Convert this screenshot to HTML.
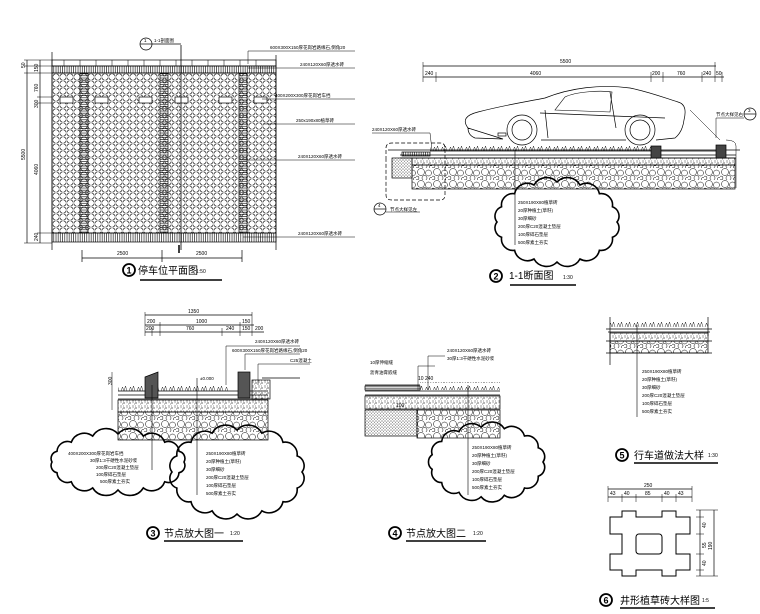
<!DOCTYPE html>
<html><head><meta charset="utf-8"><style>
html,body{margin:0;padding:0;background:#fff}
svg{display:block}
text{font-family:"Liberation Sans","Noto Sans CJK SC",sans-serif;fill:#000}
.s{font-size:4.5px}
.d{font-size:5px}
.t{font-size:10px}
.sc{font-size:5px}
.n{font-size:9px;font-weight:bold}
</style></head><body>
<svg id="sv" width="760" height="614" viewBox="0 0 760 614" xmlns="http://www.w3.org/2000/svg" stroke="#000" fill="none" stroke-width="0.7">
<defs>
<pattern id="cross" width="7" height="7" patternUnits="userSpaceOnUse">
<path d="M2.5 1h2v1.5h1.5v2h-1.5v1.5h-2v-1.5h-1.5v-2h1.5z" stroke-width="0.5"/>
</pattern>
<pattern id="vh" width="2.2" height="10" patternUnits="userSpaceOnUse"><line x1="1" y1="0" x2="1" y2="10" stroke-width="0.6"/></pattern>
<pattern id="hh" width="10" height="2.2" patternUnits="userSpaceOnUse"><line x1="0" y1="1" x2="10" y2="1" stroke-width="0.6"/></pattern>
<pattern id="stone" width="16" height="12" patternUnits="userSpaceOnUse">
<circle cx="5" cy="4" r="3.5" stroke-width="0.5"/><circle cx="12.5" cy="5" r="3" stroke-width="0.5"/><circle cx="8.5" cy="10" r="2.5" stroke-width="0.5"/><circle cx="1" cy="10" r="2" stroke-width="0.5"/><circle cx="15" cy="11" r="1.5" stroke-width="0.5"/>
</pattern>
<pattern id="grav" width="6" height="5" patternUnits="userSpaceOnUse">
<circle cx="1" cy="1" r="0.5" fill="#000" stroke="none"/><circle cx="4" cy="3" r="0.6" fill="#000" stroke="none"/><circle cx="2.5" cy="4" r="0.4" fill="#000" stroke="none"/><path d="M3 0.5l1 1M0.5 3l1 -0.6" stroke-width="0.4"/>
</pattern>
<pattern id="dense" width="3" height="3" patternUnits="userSpaceOnUse">
<circle cx="1" cy="1" r="0.6" fill="#555" stroke="none"/><circle cx="2.5" cy="2.3" r="0.5" fill="#555" stroke="none"/>
</pattern>
<pattern id="grass" width="8" height="8" patternUnits="userSpaceOnUse">
<path d="M1 7l1.5-4 1.5 4M4 7l1.5-5 1.5 5" stroke-width="0.4"/>
</pattern>
</defs>

<!-- ===== 1 plan ===== -->
<g>
<rect x="52" y="60" width="224" height="6"/>
<g stroke-width="0.5">
<line x1="64" y1="60" x2="64" y2="66"/><line x1="80" y1="60" x2="80" y2="66"/><line x1="96" y1="60" x2="96" y2="66"/><line x1="112" y1="60" x2="112" y2="66"/><line x1="128" y1="60" x2="128" y2="66"/><line x1="144" y1="60" x2="144" y2="66"/><line x1="160" y1="60" x2="160" y2="66"/><line x1="176" y1="60" x2="176" y2="66"/><line x1="192" y1="60" x2="192" y2="66"/><line x1="208" y1="60" x2="208" y2="66"/><line x1="224" y1="60" x2="224" y2="66"/><line x1="240" y1="60" x2="240" y2="66"/><line x1="256" y1="60" x2="256" y2="66"/>
</g>
<rect x="52" y="66" width="224" height="7" fill="url(#vh)"/>
<rect x="52" y="73" width="224" height="160" fill="url(#cross)"/>
<rect x="80" y="73" width="8" height="160" fill="url(#hh)"/>
<rect x="160" y="73" width="8" height="160" fill="url(#hh)"/>
<rect x="239" y="73" width="8" height="160" fill="url(#hh)"/>
<rect x="52" y="233" width="224" height="9" fill="url(#vh)"/>
<g fill="#fff">
<rect x="60" y="97" width="13" height="6"/><rect x="95" y="97" width="13" height="6"/><rect x="139" y="97" width="13" height="6"/><rect x="175" y="97" width="13" height="6"/><rect x="219" y="97" width="13" height="6"/><rect x="254" y="97" width="13" height="6"/>
</g>
<line x1="52" y1="52" x2="52" y2="250"/><line x1="276" y1="55" x2="276" y2="250"/>
<line x1="181" y1="45" x2="181" y2="250" stroke-width="0.8"/>
<line x1="179" y1="245" x2="179" y2="253" stroke-width="1.5"/>
<circle cx="146" cy="44" r="6"/><line x1="140" y1="44" x2="152" y2="44"/>
<text x="144" y="42" class="s" stroke="none">1</text>
<line x1="152" y1="44" x2="181" y2="44"/>
<text x="154" y="42" class="s" stroke="none">1-1剖面图</text>
<line x1="27" y1="60" x2="27" y2="243"/><line x1="40" y1="60" x2="40" y2="243"/>
<g stroke-width="0.5"><line x1="24" y1="60" x2="52" y2="60"/><line x1="24" y1="66" x2="52" y2="66"/><line x1="24" y1="73" x2="52" y2="73"/><line x1="37" y1="97" x2="52" y2="97"/><line x1="37" y1="103" x2="52" y2="103"/><line x1="37" y1="233" x2="52" y2="233"/><line x1="24" y1="243" x2="52" y2="243"/></g>
<text class="d" stroke="none" transform="translate(25,160) rotate(-90)">5500</text>
<text class="d" stroke="none" transform="translate(38,175) rotate(-90)">4060</text>
<text class="d" stroke="none" transform="translate(38,108) rotate(-90)">300</text>
<text class="d" stroke="none" transform="translate(38,92) rotate(-90)">760</text>
<text class="d" stroke="none" transform="translate(38,241) rotate(-90)">240</text>
<text class="d" stroke="none" transform="translate(25,68) rotate(-90)">50</text>
<text class="d" stroke="none" transform="translate(38,72) rotate(-90)">150</text>
<line x1="82" y1="258" x2="242" y2="258"/>
<line x1="82" y1="250" x2="82" y2="262"/><line x1="162" y1="250" x2="162" y2="262"/><line x1="242" y1="250" x2="242" y2="262"/>
<text x="117" y="255" class="d" stroke="none">2500</text><text x="196" y="255" class="d" stroke="none">2500</text>
<g stroke-width="0.5">
<polyline points="248,64 248,51 355,51"/><line x1="248" y1="68" x2="355" y2="68"/><line x1="262" y1="99" x2="355" y2="99"/><line x1="264" y1="124" x2="355" y2="124"/><line x1="243" y1="160" x2="355" y2="160"/><line x1="243" y1="237" x2="355" y2="237"/>
</g>
<text x="270" y="49" class="s" stroke="none">600X300X150厚花岗岩路缘石,倒角20</text>
<text x="300" y="66" class="s" stroke="none">240X120X60厚透水砖</text>
<text x="275" y="97" class="s" stroke="none">400X200X300厚花岗岩车挡</text>
<text x="296" y="122" class="s" stroke="none">250x190x80植草砖</text>
<text x="298" y="158" class="s" stroke="none">240X120X60厚透水砖</text>
<text x="298" y="235" class="s" stroke="none">240X120X60厚透水砖</text>
<circle cx="129" cy="270" r="6" stroke-width="1.8"/><text x="126.5" y="273.5" class="n" stroke="none">1</text>
<text x="138" y="274" class="t" stroke="none">停车位平面图</text><text x="196" y="273" class="sc" stroke="none">1:50</text>
<line x1="140" y1="280" x2="222" y2="280" stroke-width="1.5"/>
</g>

<!-- ===== 2 section ===== -->
<g>
<line x1="423" y1="66" x2="716" y2="66"/><line x1="423" y1="77" x2="724" y2="77"/>
<g stroke-width="0.5"><line x1="423" y1="62" x2="423" y2="82"/><line x1="436" y1="72" x2="436" y2="82"/><line x1="651" y1="72" x2="651" y2="82"/><line x1="663" y1="72" x2="663" y2="82"/><line x1="702" y1="72" x2="702" y2="82"/><line x1="715" y1="62" x2="715" y2="82"/><line x1="722" y1="72" x2="722" y2="82"/></g>
<text x="560" y="63" class="d" stroke="none">5500</text><text x="425" y="75" class="d" stroke="none">240</text><text x="530" y="75" class="d" stroke="none">4060</text><text x="652" y="75" class="d" stroke="none">200</text><text x="677" y="75" class="d" stroke="none">760</text><text x="703" y="75" class="d" stroke="none">240</text><text x="716" y="75" class="d" stroke="none">50</text>
<path d="M468 128 C462 120 466 115 478 112 C505 105 525 102 545 98 C570 88 600 84 630 88 C650 92 665 98 678 102 C686 104 686 112 684 120 C683 128 680 134 675 138 L656 140 M626 140 L541 140 M503 139 L475 138 C470 136 468 132 468 128 Z"/>
<circle cx="522" cy="130" r="15"/><circle cx="522" cy="130" r="10"/>
<circle cx="640" cy="130" r="15"/><circle cx="640" cy="130" r="10"/>
<path d="M565 97 C575 92 600 90 612 92 L610 112 L555 110 Z" stroke-width="0.6"/>
<path d="M545 110 L548 138 M610 92 L616 128 M540 113 L665 118"/>
<rect x="498" y="133" width="8" height="3"/>
<line x1="388" y1="150" x2="740" y2="150"/>
<rect x="402" y="152" width="28" height="4" fill="url(#vh)"/>
<rect x="430" y="146" width="230" height="5" fill="url(#grass)" stroke="none"/>
<line x1="430" y1="151" x2="726" y2="151"/>
<line x1="400" y1="155" x2="736" y2="155"/>
<line x1="400" y1="158" x2="736" y2="158"/>
<rect x="412" y="158" width="323" height="7" fill="url(#grav)"/>
<rect x="412" y="165" width="323" height="24" fill="url(#stone)"/>
<rect x="392" y="158" width="20" height="20" fill="url(#dense)"/>
<rect x="651" y="146" width="10" height="12" fill="#444"/>
<rect x="716" y="145" width="10" height="13" fill="#444"/>
<path d="M386 160 L386 148 Q386 143 392 143 L440 143 Q445 143 445 148 L445 195 Q445 200 440 200 L392 200 Q386 200 386 195 Z" stroke-dasharray="4 2"/>
<path d="M726 140 Q736 140 736 146 L736 188" stroke-width="0.5"/>
<circle cx="380" cy="209" r="6"/><line x1="374" y1="209" x2="386" y2="209"/><text x="378" y="207" class="s" stroke="none">4</text>
<text x="390" y="211" class="s" stroke="none">节点大样见左</text><line x1="386" y1="212" x2="420" y2="212" stroke-width="0.5"/>
<circle cx="750" cy="114" r="6"/><line x1="744" y1="114" x2="756" y2="114"/><text x="748" y="112" class="s" stroke="none">3</text>
<polyline points="744,118 716,118 716,138" stroke-width="0.5"/><text x="716" y="116" class="s" stroke="none">节点大样见右</text>
<line x1="690" y1="110" x2="720" y2="140" stroke-width="0.5"/>
<polyline points="372,133 430,133 432,150" stroke-width="0.5"/><text x="372" y="131" class="s" stroke="none">240X120X60厚透水砖</text>
<line x1="515" y1="150" x2="515" y2="245" stroke-width="0.6"/>
<text x="518" y="204" class="s" stroke="none">250X190X80植草砖</text>
<text x="518" y="212" class="s" stroke="none">20厚种植土(草籽)</text>
<text x="518" y="220" class="s" stroke="none">30厚细砂</text>
<text x="518" y="228" class="s" stroke="none">200厚C20混凝土垫层</text>
<text x="518" y="236" class="s" stroke="none">100厚碎石垫层</text>
<text x="518" y="244" class="s" stroke="none">500厚素土夯实</text>
<circle cx="496" cy="276" r="6" stroke-width="1.8"/><text x="493.5" y="279.5" class="n" stroke="none">2</text>
<text x="509" y="279" class="t" stroke="none">1-1断面图</text><text x="563" y="279" class="sc" stroke="none">1:30</text>
<line x1="510" y1="285" x2="576" y2="285" stroke-width="1.5"/>
</g>

<!-- ===== 3 detail ===== -->
<g>
<line x1="145" y1="315" x2="252" y2="315"/><line x1="145" y1="325" x2="254" y2="325"/><line x1="145" y1="332" x2="264" y2="332"/>
<g stroke-width="0.5"><line x1="145" y1="312" x2="145" y2="336"/><line x1="152" y1="328" x2="152" y2="336"/><line x1="160" y1="322" x2="160" y2="336"/><line x1="222" y1="328" x2="222" y2="336"/><line x1="240" y1="322" x2="240" y2="336"/><line x1="252" y1="312" x2="252" y2="336"/></g>
<text x="188" y="313" class="d" stroke="none">1350</text><text x="147" y="323" class="d" stroke="none">200</text><text x="196" y="323" class="d" stroke="none">1000</text><text x="242" y="323" class="d" stroke="none">150</text>
<text x="146" y="330" class="d" stroke="none">200</text><text x="186" y="330" class="d" stroke="none">760</text><text x="226" y="330" class="d" stroke="none">240</text><text x="242" y="330" class="d" stroke="none">150</text><text x="255" y="330" class="d" stroke="none">200</text>
<rect x="118" y="383" width="110" height="8" fill="url(#grass)" stroke="none"/>
<line x1="118" y1="391" x2="268" y2="391"/><line x1="118" y1="395" x2="268" y2="395"/><line x1="118" y1="399" x2="268" y2="399"/>
<rect x="118" y="400" width="150" height="12" fill="url(#grav)"/>
<rect x="118" y="412" width="150" height="28" fill="url(#stone)"/>
<path d="M145 377 L158 372 L158 398 L145 398 Z" fill="#555"/>
<rect x="238" y="372" width="12" height="26" fill="#555"/>
<rect x="252" y="380" width="18" height="19" fill="url(#grav)"/>
<line x1="262" y1="378" x2="300" y2="378"/>
<text x="200" y="380" class="s" stroke="none">±0.000</text>
<polyline points="226,385 226,346 300,346" stroke-width="0.5"/><text x="255" y="343" class="s" stroke="none">240X120X60厚透水砖</text>
<polyline points="245,370 245,354 300,354" stroke-width="0.5"/><text x="232" y="352" class="s" stroke="none">600X300X150厚花岗岩路缘石,倒角20</text>
<polyline points="258,385 258,364 310,364" stroke-width="0.5"/><text x="290" y="362" class="s" stroke="none">C25混凝土</text>
<text class="d" stroke="none" transform="translate(112,385) rotate(-90)">300</text>
<line x1="112" y1="372" x2="112" y2="410" stroke-width="0.5"/>
<line x1="152" y1="385" x2="152" y2="470" stroke-width="0.6"/>
<line x1="197" y1="378" x2="197" y2="495" stroke-width="0.6"/>
<text x="68" y="455" class="s" stroke="none">400X200X300厚花岗岩车挡</text>
<text x="90" y="462" class="s" stroke="none">30厚1:3干硬性水泥砂浆</text>
<text x="96" y="469" class="s" stroke="none">200厚C20混凝土垫层</text>
<text x="96" y="476" class="s" stroke="none">100厚碎石垫层</text>
<text x="100" y="483" class="s" stroke="none">500厚素土夯实</text>
<text x="206" y="455" class="s" stroke="none">250X190X80植草砖</text>
<text x="206" y="463" class="s" stroke="none">20厚种植土(草籽)</text>
<text x="206" y="471" class="s" stroke="none">30厚细砂</text>
<text x="206" y="479" class="s" stroke="none">200厚C20混凝土垫层</text>
<text x="206" y="487" class="s" stroke="none">100厚碎石垫层</text>
<text x="206" y="495" class="s" stroke="none">500厚素土夯实</text>
<circle cx="153" cy="533" r="6" stroke-width="1.8"/><text x="150.5" y="536.5" class="n" stroke="none">3</text>
<text x="164" y="537" class="t" stroke="none">节点放大图一</text><text x="230" y="535" class="sc" stroke="none">1:20</text>
<line x1="164" y1="541" x2="243" y2="541" stroke-width="1.5"/>
</g>

<!-- ===== 4 detail ===== -->
<g>
<line x1="365" y1="385" x2="420" y2="385"/>
<rect x="365" y="386" width="55" height="4" fill="url(#hh)"/>
<rect x="420" y="382" width="80" height="8" fill="url(#grass)" stroke="none"/>
<line x1="365" y1="391" x2="500" y2="391"/><line x1="365" y1="395" x2="500" y2="395"/>
<rect x="365" y="396" width="135" height="13" fill="url(#grav)"/>
<rect x="365" y="410" width="52" height="26" fill="url(#dense)"/>
<rect x="417" y="410" width="83" height="28" fill="url(#stone)"/>
<polyline points="418,390 418,366 435,366" stroke-width="0.5"/><polyline points="428,390 428,356 445,356" stroke-width="0.5"/>
<text x="370" y="364" class="s" stroke="none">10厚伸缩缝</text><text x="370" y="374" class="s" stroke="none">沥青油膏嵌缝</text>
<text x="447" y="352" class="s" stroke="none">240X120X60厚透水砖</text><text x="447" y="360" class="s" stroke="none">30厚1:3干硬性水泥砂浆</text>
<text x="418" y="380" class="d" stroke="none">10 240</text><text x="396" y="407" class="d" stroke="none">100</text>
<line x1="468" y1="385" x2="468" y2="495" stroke-width="0.6"/>
<text x="472" y="449" class="s" stroke="none">250X190X80植草砖</text>
<text x="472" y="457" class="s" stroke="none">20厚种植土(草籽)</text>
<text x="472" y="465" class="s" stroke="none">30厚细砂</text>
<text x="472" y="473" class="s" stroke="none">200厚C20混凝土垫层</text>
<text x="472" y="481" class="s" stroke="none">100厚碎石垫层</text>
<text x="472" y="489" class="s" stroke="none">500厚素土夯实</text>
<circle cx="395" cy="533" r="6" stroke-width="1.8"/><text x="392.5" y="536.5" class="n" stroke="none">4</text>
<text x="406" y="537" class="t" stroke="none">节点放大图二</text><text x="473" y="535" class="sc" stroke="none">1:20</text>
<line x1="406" y1="541" x2="486" y2="541" stroke-width="1.5"/>
</g>

<!-- ===== 5 ===== -->
<g>
<line x1="610" y1="317" x2="610" y2="365"/><line x1="708" y1="317" x2="708" y2="336"/>
<rect x="610" y="322" width="98" height="7" fill="url(#grass)" stroke="none"/>
<line x1="606" y1="329" x2="712" y2="329"/><line x1="608" y1="332" x2="710" y2="332"/>
<rect x="610" y="333" width="98" height="8" fill="url(#grav)"/>
<rect x="610" y="341" width="98" height="12" fill="url(#stone)"/>
<line x1="606" y1="341" x2="712" y2="341"/><line x1="606" y1="353" x2="712" y2="353"/>
<line x1="637" y1="325" x2="637" y2="417" stroke-width="0.6"/>
<text x="642" y="373" class="s" stroke="none">250X190X80植草砖</text>
<text x="642" y="381" class="s" stroke="none">20厚种植土(草籽)</text>
<text x="642" y="389" class="s" stroke="none">30厚细砂</text>
<text x="642" y="397" class="s" stroke="none">200厚C20混凝土垫层</text>
<text x="642" y="405" class="s" stroke="none">100厚碎石垫层</text>
<text x="642" y="413" class="s" stroke="none">500厚素土夯实</text>
<circle cx="622" cy="455" r="6" stroke-width="1.8"/><text x="619.5" y="458.5" class="n" stroke="none">5</text>
<text x="634" y="459" class="t" stroke="none">行车道做法大样</text><text x="708" y="457" class="sc" stroke="none">1:30</text>
<line x1="634" y1="463" x2="718" y2="463" stroke-width="1.5"/>
</g>

<!-- ===== 6 ===== -->
<g>
<line x1="608" y1="489" x2="692" y2="489"/><line x1="608" y1="497" x2="692" y2="497"/>
<g stroke-width="0.5"><line x1="608" y1="486" x2="608" y2="502"/><line x1="622" y1="494" x2="622" y2="502"/><line x1="636" y1="494" x2="636" y2="502"/><line x1="662" y1="494" x2="662" y2="502"/><line x1="676" y1="494" x2="676" y2="502"/><line x1="692" y1="486" x2="692" y2="502"/></g>
<text x="644" y="487" class="d" stroke="none">250</text><text x="610" y="495" class="d" stroke="none">43</text><text x="624" y="495" class="d" stroke="none">40</text><text x="645" y="495" class="d" stroke="none">85</text><text x="664" y="495" class="d" stroke="none">40</text><text x="678" y="495" class="d" stroke="none">43</text>
<path d="M610 517 H622 V511 H636 V517 H662 V511 H676 V517 H690 V534 H676 V554 H690 V570 H676 V576 H662 V570 H636 V576 H622 V570 H610 V554 H622 V534 H610 Z" stroke-width="1"/>
<rect x="636" y="534" width="26" height="20" rx="3" stroke-width="1"/>
<line x1="700" y1="510" x2="700" y2="576"/><line x1="714" y1="510" x2="714" y2="576"/>
<g stroke-width="0.5"><line x1="696" y1="510" x2="718" y2="510"/><line x1="696" y1="517" x2="704" y2="517"/><line x1="696" y1="534" x2="704" y2="534"/><line x1="696" y1="554" x2="704" y2="554"/><line x1="696" y1="570" x2="704" y2="570"/><line x1="696" y1="576" x2="718" y2="576"/></g>
<text class="d" stroke="none" transform="translate(712,550) rotate(-90)">190</text>
<text class="d" stroke="none" transform="translate(706,528) rotate(-90)">40</text>
<text class="d" stroke="none" transform="translate(706,548) rotate(-90)">55</text>
<text class="d" stroke="none" transform="translate(706,566) rotate(-90)">40</text>
<circle cx="606" cy="600" r="6" stroke-width="1.8"/><text x="603.5" y="603.5" class="n" stroke="none">6</text>
<text x="620" y="604" class="t" stroke="none">井形植草砖大样图</text><text x="702" y="602" class="sc" stroke="none">1:5</text>
<line x1="620" y1="608" x2="715" y2="608" stroke-width="1.5"/>
</g>

<g id="clouds" stroke-width="1.6"></g>
</svg>
<script>
function cloud(cx,cy,rx,ry,n){var p=[];for(var i=0;i<n;i++){var a=i/n*2*Math.PI;p.push([cx+rx*Math.cos(a),cy+ry*Math.sin(a)]);}
var d="M"+p[0][0].toFixed(1)+" "+p[0][1].toFixed(1);for(var i=1;i<=n;i++){var q=p[i%n],o=p[i-1];var r=Math.hypot(q[0]-o[0],q[1]-o[1])*0.62;d+=" A"+r.toFixed(1)+" "+r.toFixed(1)+" 0 0 1 "+q[0].toFixed(1)+" "+q[1].toFixed(1);}
var e=document.createElementNS("http://www.w3.org/2000/svg","path");e.setAttribute("d",d+"Z");document.getElementById("clouds").appendChild(e);}
cloud(557,222,60,40,16);cloud(118,462,66,28,16);cloud(237,472,65,42,16);cloud(487,462,56,35,15);
</script>
</body></html>
